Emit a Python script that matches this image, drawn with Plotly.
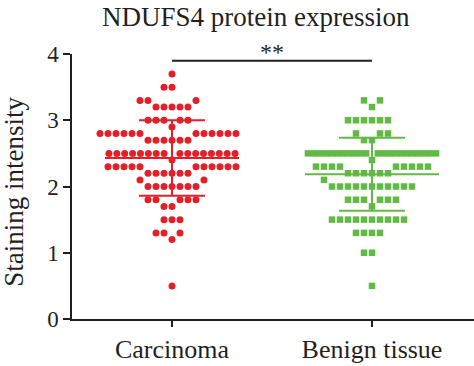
import numpy as np
import plotly.graph_objects as go

# ---------------- data ----------------
categories = ["Carcinoma", "Benign tissue"]
y_tick_values = [0, 1, 2, 3, 4]
title_text = "NDUFS4 protein expression"
y_title_text = "Staining intensity"
sig_label = "**"
sig_level = 3.9

# staining-intensity scores and how many samples share each score
carcinoma_levels = [3.7, 3.5, 3.3, 3.2, 3.0, 2.9, 2.8, 2.7, 2.5, 2.4,
                    2.3, 2.2, 2.1, 2.0, 1.8, 1.7, 1.5, 1.3, 1.2, 0.5]
carcinoma_counts = [1, 2, 3, 5, 5, 1, 12, 6, 16, 1,
                    11, 6, 2, 7, 5, 2, 3, 3, 1, 1]
benign_levels = [3.3, 3.2, 3.0, 2.8, 2.7, 2.5, 2.4, 2.3, 2.2, 2.1,
                 2.0, 1.8, 1.7, 1.5, 1.3, 1.0, 0.5]
benign_counts = [2, 1, 6, 3, 2, 22, 1, 9, 6, 1,
                 11, 6, 1, 10, 4, 2, 1]

# ---------------- styling / layout ----------------
RED = "#E3202A"
GREEN = "#63B946"
AXIS = "#231F20"
FONT = "Liberation Serif"
W, H = 474, 366
ML, MR, MT, MB = 72, 0, 54, 47
PW = W - ML - MR
PH = H - MT - MB
X_RANGE = [-0.5, 1.51]
Y_RANGE = [0, 4]
PX_X = PW / (X_RANGE[1] - X_RANGE[0])
PX_Y = PH / (Y_RANGE[1] - Y_RANGE[0])
SIG_TEXT_DROP = 5 / PX_Y   # pull the asterisks a little closer to the bar


def swarm(levels, counts, step=8.0, dmin=7.9, half=67.0):
    """Prism-like scatter-dot layout: rows of equal values, avoiding neighbours."""
    placed = []
    xs, ys = [], []
    for i in np.argsort(levels):
        v, n = levels[i], counts[i]
        s = min(step, 2 * half / (n + 1))
        yp = v * PX_Y
        best = None
        for shift in (0.0, 0.5):
            cands = []
            for j in range(-40, 41):
                xp = (j + shift) * s
                if all((xp - px) ** 2 + (yp - py) ** 2 >= dmin ** 2 for px, py in placed):
                    cands.append(xp)
            cands.sort(key=lambda x: (abs(x), x))
            pick = cands[:n]
            score = sum(abs(x) for x in pick)
            if best is None or score < best[0] - 1e-9:
                best = (score, pick)
        for xp in best[1]:
            placed.append((xp, yp))
            xs.append(xp)
            ys.append(v)
    return np.array(xs), np.array(ys)


fig = go.Figure()

groups = [
    (carcinoma_levels, carcinoma_counts, RED, "circle", 7),
    (benign_levels, benign_counts, GREEN, "square", 6.5),
]

for gi, (lv, ct, col, sym, size) in enumerate(groups):
    xo, yv = swarm(lv, ct)
    fig.add_trace(go.Scatter(
        x=gi + xo / PX_X, y=yv, mode="markers",
        marker=dict(color=col, symbol=sym, size=size, line=dict(width=0)),
        showlegend=False, hoverinfo="y", cliponaxis=False))

    vals = np.repeat(lv, ct)
    m = vals.mean()
    sd = vals.std(ddof=1)
    wm = 67 / PX_X
    ws = 33 / PX_X
    for (x0, x1, y0, y1) in [(gi - wm, gi + wm, m, m),
                             (gi - ws, gi + ws, m + sd, m + sd),
                             (gi - ws, gi + ws, m - sd, m - sd),
                             (gi, gi, m - sd, m + sd)]:
        fig.add_trace(go.Scatter(x=[x0, x1], y=[y0, y1], mode="lines",
                                 line=dict(color=col, width=2),
                                 showlegend=False, hoverinfo="skip"))

# significance bracket
fig.add_trace(go.Scatter(x=[0, 1], y=[sig_level, sig_level], mode="lines",
                         line=dict(color=AXIS, width=2), cliponaxis=False,
                         showlegend=False, hoverinfo="skip"))
fig.add_trace(go.Scatter(x=[0.5], y=[sig_level - SIG_TEXT_DROP], mode="text",
                         text=[sig_label], textposition="top center",
                         cliponaxis=False,
                         textfont=dict(family=FONT, size=24, color=AXIS),
                         showlegend=False, hoverinfo="skip"))

# y-axis title
fig.add_annotation(xref="paper", yref="paper", x=(14 - ML) / PW, y=0.48,
                   text=y_title_text, textangle=-90, showarrow=False,
                   xanchor="center", yanchor="middle",
                   font=dict(family=FONT, size=27, color=AXIS))

# chart title
fig.add_annotation(xref="paper", yref="paper", x=(256 - ML) / PW, y=1 + (MT - 17) / PH,
                   text=title_text, showarrow=False,
                   xanchor="center", yanchor="middle",
                   font=dict(family=FONT, size=27, color=AXIS))

fig.update_layout(
    width=W, height=H,
    margin=dict(l=ML, r=MR, t=MT, b=MB, autoexpand=False),
    paper_bgcolor="white", plot_bgcolor="white",
    font=dict(family=FONT, color=AXIS),
    xaxis=dict(range=X_RANGE, tickvals=[0, 1], ticktext=categories,
               automargin=False, ticklabelstandoff=0,
               showline=True, linecolor=AXIS, linewidth=1.5,
               ticks="outside", ticklen=6, tickwidth=1.5, tickcolor=AXIS,
               showgrid=False, zeroline=False,
               tickfont=dict(family=FONT, size=26, color=AXIS)),
    yaxis=dict(range=Y_RANGE, tickvals=y_tick_values, automargin=False,
               showline=True, linecolor=AXIS, linewidth=1.5,
               ticks="outside", ticklen=7, tickwidth=1.5, tickcolor=AXIS,
               showgrid=False, zeroline=False,
               tickfont=dict(family=FONT, size=23, color=AXIS)),
)

fig.write_html("out.html",
               config={"displayModeBar": False},
               post_script="document.body.style.margin='0';"
                           "document.body.style.overflow='hidden';")
